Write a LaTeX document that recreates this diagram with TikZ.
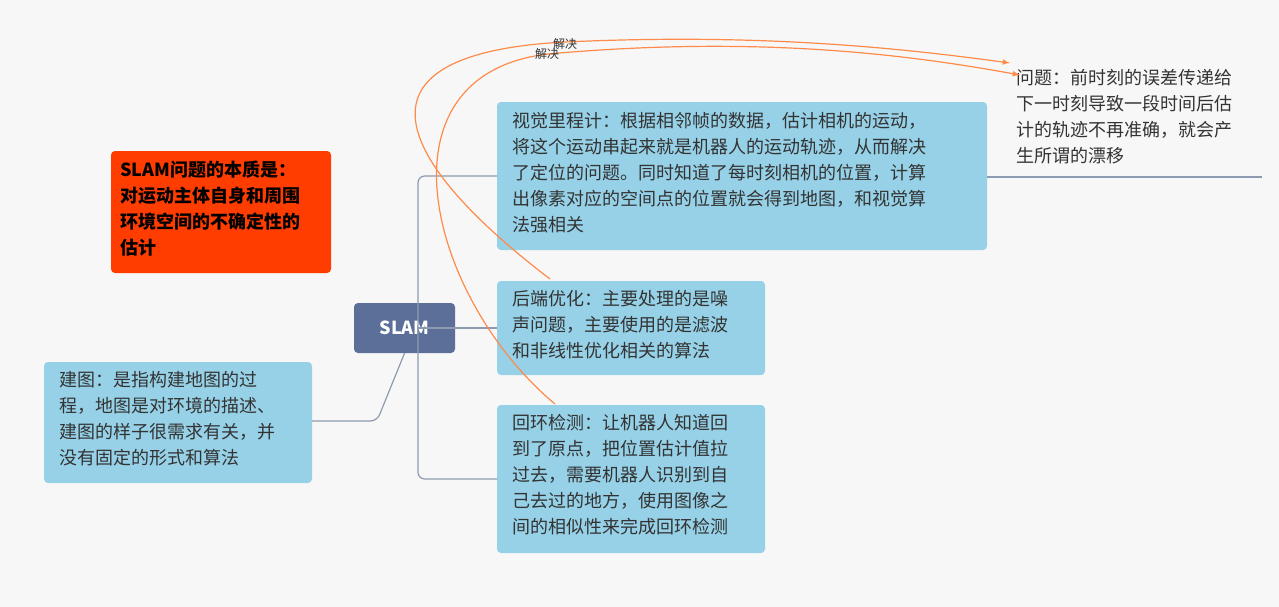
\documentclass[tikz,border=0pt]{standalone}
\usepackage{fontspec}
\setmainfont{Noto Sans CJK SC}
\begin{document}
\begin{tikzpicture}[x=0.75pt,y=-0.75pt,
  box/.style={fill=boxc,rounded corners=3pt,align=left,anchor=north west,inner sep=0pt,font=\fontsize{13.5}{19.5}\selectfont,text=txt},
  conn/.style={draw=linec,line width=0.9pt,rounded corners=5pt},
  rel/.style={draw=orc,line width=0.9pt,-latex},
  lab/.style={font=\fontsize{9}{10}\selectfont,text=txt}]
\definecolor{boxc}{HTML}{96D1E7}
\definecolor{linec}{HTML}{8D9BB0}
\definecolor{orc}{HTML}{FF8A4A}
\definecolor{txt}{HTML}{333333}
\definecolor{slamc}{HTML}{5B6F99}
\fill[fill={rgb,255:red,247;green,247;blue,247}] (0,0) rectangle (1279,607);
\useasboundingbox (0,0) rectangle (1279,607);
\path[fill=boxc,rounded corners=3pt] (497,102) rectangle (987,250);
\path[fill=boxc,rounded corners=3pt] (497,281) rectangle (765,375);
\path[fill=boxc,rounded corners=3pt] (497,405) rectangle (765,553);
\path[fill=boxc,rounded corners=3pt] (44,362) rectangle (312,483);
\path[fill={rgb,255:red,255;green,61;blue,0},rounded corners=3pt] (111,151) rectangle (331,273);
\node[fill=slamc,rounded corners=3pt,minimum width=75.75pt,minimum height=37.5pt,text=white,font=\fontsize{13.5}{16}\selectfont\bfseries] (slam) at (404.5,328) {SLAM};
\node[box,fill=none] (vo) at (512,112) {视觉里程计：根据相邻帧的数据，估计相机的运动，\\将这个运动串起来就是机器人的运动轨迹，从而解决\\了定位的问题。同时知道了每时刻相机的位置，计算\\出像素对应的空间点的位置就会得到地图，和视觉算\\法强相关};
\node[box,fill=none] (be) at (512,290) {后端优化：主要处理的是噪\\声问题，主要使用的是滤波\\和非线性优化相关的算法};
\node[box,fill=none] (lc) at (512,414) {回环检测：让机器人知道回\\到了原点，把位置估计值拉\\过去，需要机器人识别到自\\己去过的地方，使用图像之\\间的相似性来完成回环检测};
\node[box,fill=none] (mp) at (59,371) {建图：是指构建地图的过\\程，地图是对环境的描述、\\建图的样子很需求有关，并\\没有固定的形式和算法};
\node[box,fill=none,text=black,font=\fontsize{13.5}{19.5}\selectfont\bfseries] (core) at (120,161) {SLAM问题的本质是：\\对运动主体自身和周围\\环境空间的不确定性的\\估计};
\node[box,fill=none] (pb) at (1016,69) {问题：前时刻的误差传递给\\下一时刻导致一段时间后估\\计的轨迹不再准确，就会产\\生所谓的漂移};
\coordinate (pbl) at (987,177);
\coordinate (pbr) at (1262,177);
\draw[draw=linec,line width=0.9pt] (pbl) -- (pbr);
\coordinate (vol) at (497,176);
\coordinate (bel) at (497,328);
\coordinate (lcl) at (497,479);
\coordinate (mpr) at (312,421);
\draw[conn] (slam.east) -- (418,328);
\draw[conn] (vol) -- (418,176) -- (418,479) -- (lcl);
\draw[conn] (418,328) -- (bel);
\draw[conn] (slam.south) -- (377,421) -- (mpr);
\coordinate (p1) at (1010,63);
\coordinate (p2) at (1020,75);
\coordinate (b1) at (550,279);
\coordinate (b2) at (555,404);
\draw[rel] (b1) .. controls (420,180) and (320,55) .. (565,42) .. controls (760,33) and (900,48) .. (p1);
\draw[rel] (b2) .. controls (430,300) and (370,75) .. (548,54) .. controls (760,35) and (910,55) .. (p2);
\node[lab] (l1) at (565,44) {解决};
\node[lab] (l2) at (547,54) {解决};
\end{tikzpicture}
\end{document}
